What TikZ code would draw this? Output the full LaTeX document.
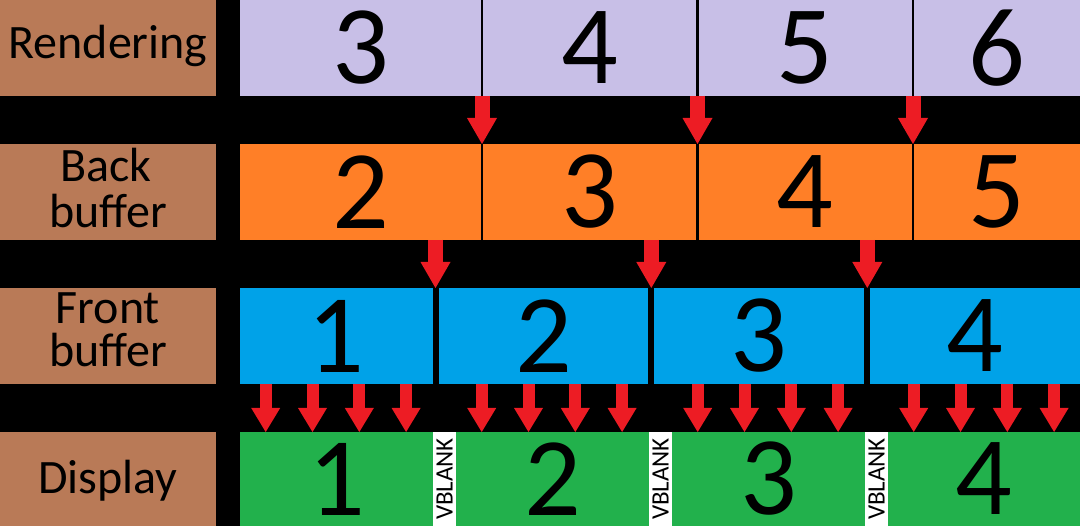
\documentclass[tikz,border=0pt]{standalone}
\usepackage{fontspec}
\setmainfont{Carlito}
\usetikzlibrary{arrows.meta,calc}
\definecolor{lav}{HTML}{C8BFE7}
\definecolor{ora}{HTML}{FF7F27}
\definecolor{blu}{HTML}{00A2E8}
\definecolor{grn}{HTML}{22B14C}
\definecolor{brn}{HTML}{B97A57}
\definecolor{arrowred}{HTML}{ED1C24}
\begin{document}
\begin{tikzpicture}[x=1pt,y=-1pt,
  cell/.style={anchor=north west, inner sep=0pt, outer sep=0pt, minimum height=96pt, font=\fontsize{112}{112}\selectfont, text=black},
  lab/.style={anchor=north west, inner sep=0pt, outer sep=0pt, fill=brn, minimum width=216pt, minimum height=96pt},
  labtxt/.style={anchor=base, inner sep=0pt, outer sep=0pt, font=\fontsize{48}{48}\selectfont, text=black},
  labline/.style={labtxt, text height=33pt, text depth=0pt},
  divider/.style={line width=2.6pt, black},
  bigarrow/.style={arrowred, line width=15pt, -{Triangle[width=30pt,length=26pt,line width=0pt]}},
  smallarrow/.style={arrowred, line width=12pt, -{Triangle[width=29pt,length=24pt,line width=0pt]}},
  vb/.style={anchor=north west, inner sep=0pt, outer sep=0pt, fill=white, minimum width=23pt, minimum height=94pt, font=\fontsize{25}{25}\selectfont, text=black}
]
\useasboundingbox (0,0) rectangle (1080,526);
\fill[black] (0,0) rectangle (1080,526);

% labels
\node[lab] (lr) at (0,0) {};
\node[lab] (lb) at (0,144) {};
\node[lab] (lf) at (0,288) {};
\node[lab, minimum height=94pt] (ld) at (0,432) {};
\node[labtxt] (lrt) at ($(lr.north)+(0,59)$) {Rendering};
\node[labline] (lbt1) at ($(lb.north)+(-2,38)$) {Back};
\node[labline] (lbt2) at ($(lb.north)+(0,84)$) {buffer};
\node[labline] (lft1) at ($(lf.north)+(0,35.5)$) {Front};
\node[labline] (lft2) at ($(lf.north)+(0,78.5)$) {buffer};
\node[labtxt] (ldt) at ($(ld.north)+(0,62)$) {Display};

% rendering row
\node[cell, fill=lav, minimum width=242pt] (r1) at (240,0) {3};
\node[cell, fill=lav, minimum width=215.5pt] (r2) at (482,0) {4};
\node[cell, fill=lav, minimum width=215.5pt] (r3) at (697.5,0) {5};
\node[cell, fill=lav, minimum width=167pt] (r4) at (913,0) {6};

% back buffer row
\node[cell, fill=ora, minimum width=242pt] (b1) at (240,144) {2};
\node[cell, fill=ora, minimum width=215.5pt] (b2) at (482,144) {3};
\node[cell, fill=ora, minimum width=215.5pt] (b3) at (697.5,144) {4};
\node[cell, fill=ora, minimum width=167pt] (b4) at (913,144) {5};

% front buffer row
\node[cell, fill=blu, minimum width=192.5pt] (f1) at (240,288) {1};
\node[cell, fill=blu, minimum width=209.8pt] (f2) at (438.5,288) {2};
\node[cell, fill=blu, minimum width=210pt] (f3) at (654.3,288) {3};
\node[cell, fill=blu, minimum width=209.7pt] (f4) at (870.3,288) {4};

% display row
\node[cell, fill=grn, minimum width=193pt, minimum height=94pt] (d1) at (240,432) {1};
\node[vb] (v1) at (433,432) {\rotatebox{90}{VBLANK}};
\node[cell, fill=grn, minimum width=193pt, minimum height=94pt] (d2) at (456,432) {2};
\node[vb] (v2) at (649,432) {\rotatebox{90}{VBLANK}};
\node[cell, fill=grn, minimum width=193pt, minimum height=94pt] (d3) at (672,432) {3};
\node[vb] (v3) at (865,432) {\rotatebox{90}{VBLANK}};
\node[cell, fill=grn, minimum width=192pt, minimum height=94pt] (d4) at (888,432) {4};

% dividers
\foreach \n in {r1,r2,r3,b1,b2,b3}
  \draw[divider] (\n.north east) -- (\n.south east);

% rendering -> back buffer
\foreach \n in {1,2,3}
  \draw[bigarrow] (r\n.south east) -- (b\n.north east);

% back buffer -> front buffer
\coordinate (g1) at ($(f1.north east)!0.5!(f2.north west)$);
\coordinate (g2) at ($(f2.north east)!0.5!(f3.north west)$);
\coordinate (g3) at ($(f3.north east)!0.5!(f4.north west)$);
\foreach \n in {1,2,3}
  \draw[bigarrow] (b1.south -| g\n) -- (g\n);

% front buffer -> display
\foreach \k in {1,2,3,4}
  \foreach \i in {0,1,2,3}
    \draw[smallarrow] ($(d\k.north west)+(25.7+46.8*\i,-48)$) -- ($(d\k.north west)+(25.7+46.8*\i,0)$);
\end{tikzpicture}
\end{document}
